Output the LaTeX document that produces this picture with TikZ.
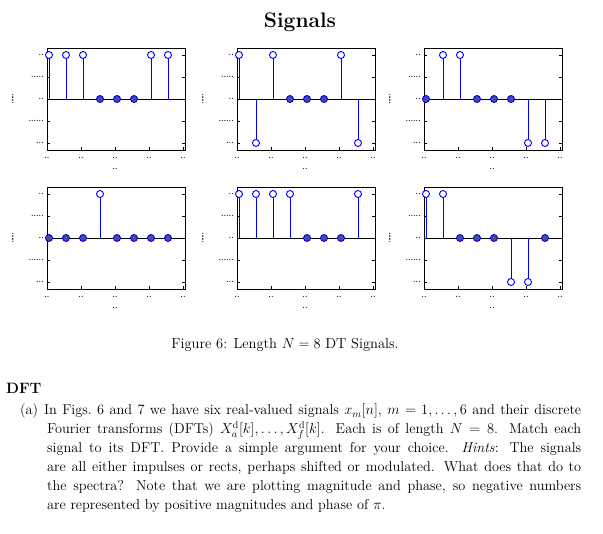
\documentclass[tikz,border=0pt]{standalone}
\begin{document}
\begin{tikzpicture}[x=1pt,y=-1pt,
  stem/.style={blue,line width=0.8pt},
  mk/.style={circle,draw=blue,line width=0.9pt,inner sep=0pt,minimum size=7pt,fill=white},
  mkz/.style={circle,draw=blue,line width=0.9pt,inner sep=0pt,minimum size=7pt,fill=blue!40!black!70},
  frm/.style={black,line width=0.7pt},
  dots/.style={font=\bfseries\scriptsize,inner sep=0pt}]
\useasboundingbox (0,0) rectangle (603,534);
\newcommand\sigplot[3]{%
  \begin{scope}[shift={(#1,#2)}]
    \draw[frm] (0,0) rectangle (138,102);
    \draw[frm] (0,51) -- (138,51);
    \foreach \t in {0,34,68,102,136}{\draw[frm] (\t,102) -- (\t,99); \node[dots] at (\t,110) {..};}
    \foreach \yy in {7,29,51,73,95}{\draw[frm] (0,\yy) -- (3,\yy); \draw[frm] (138,\yy) -- (135,\yy);}
    \node[dots,anchor=east] at (-3,7) {..};
    \node[dots,anchor=east] at (-3,29) {.....};
    \node[dots,anchor=east] at (-3,51) {..};
    \node[dots,anchor=east] at (-3,73) {......};
    \node[dots,anchor=east] at (-3,95) {...};
    \node[dots] at (68,121) {..};
    \node[dots,align=center] at (-34,51) {:\\[-5pt]:\\[-5pt]:};
    \foreach \v [count=\i from 0] in {#3}{
      \ifnum\v=0
        \node[mkz] at (2+17*\i,51) {};
      \else
        \draw[stem] (2+17*\i,51) -- (2+17*\i,51-44*\v);
        \node[mk] at (2+17*\i,51-44*\v) {};
      \fi}
  \end{scope}}
\node[font=\bfseries\fontsize{21}{24}\selectfont] (title) at (300,22) {Signals};
\sigplot{47}{48}{1,1,1,0,0,0,1,1}
\sigplot{237}{48}{1,-1,1,0,0,0,1,-1}
\sigplot{424}{48}{0,1,1,0,0,0,-1,-1}
\sigplot{47}{187}{0,0,0,1,0,0,0,0}
\sigplot{237}{187}{1,1,1,1,0,0,0,1}
\sigplot{424}{187}{1,1,0,0,0,-1,-1,0}
\node[font=\fontsize{14.5}{17}\selectfont] (cap) at (285,345) {Figure 6: Length $N=8$ DT Signals.};
\node[font=\fontsize{15}{17}\selectfont\bfseries,anchor=west,inner sep=0pt] (dft) at (6,388) {DFT};
\node[font=\fontsize{14.3}{19}\selectfont,anchor=north west,text width=534pt,inner sep=0pt,align=justify] (para) at (47,404)
{\hspace*{-27pt}(a)\hspace{6pt}In Figs.~6 and 7 we have six real-valued signals $x_m[n]$, $m=1,\ldots,6$ and their discrete\linebreak Fourier transforms (DFTs) $X^{\mathrm{d}}_a[k],\ldots,X^{\mathrm{d}}_f[k]$. Each is of length $N=8$. Match each\linebreak signal to its DFT. Provide a simple argument for your choice. \emph{Hints}: The signals\linebreak are all either impulses or rects, perhaps shifted or modulated. What does that do to\linebreak the spectra? Note that we are plotting magnitude and phase, so negative numbers\linebreak are represented by positive magnitudes and phase of $\pi$.};
\end{tikzpicture}
\end{document}
